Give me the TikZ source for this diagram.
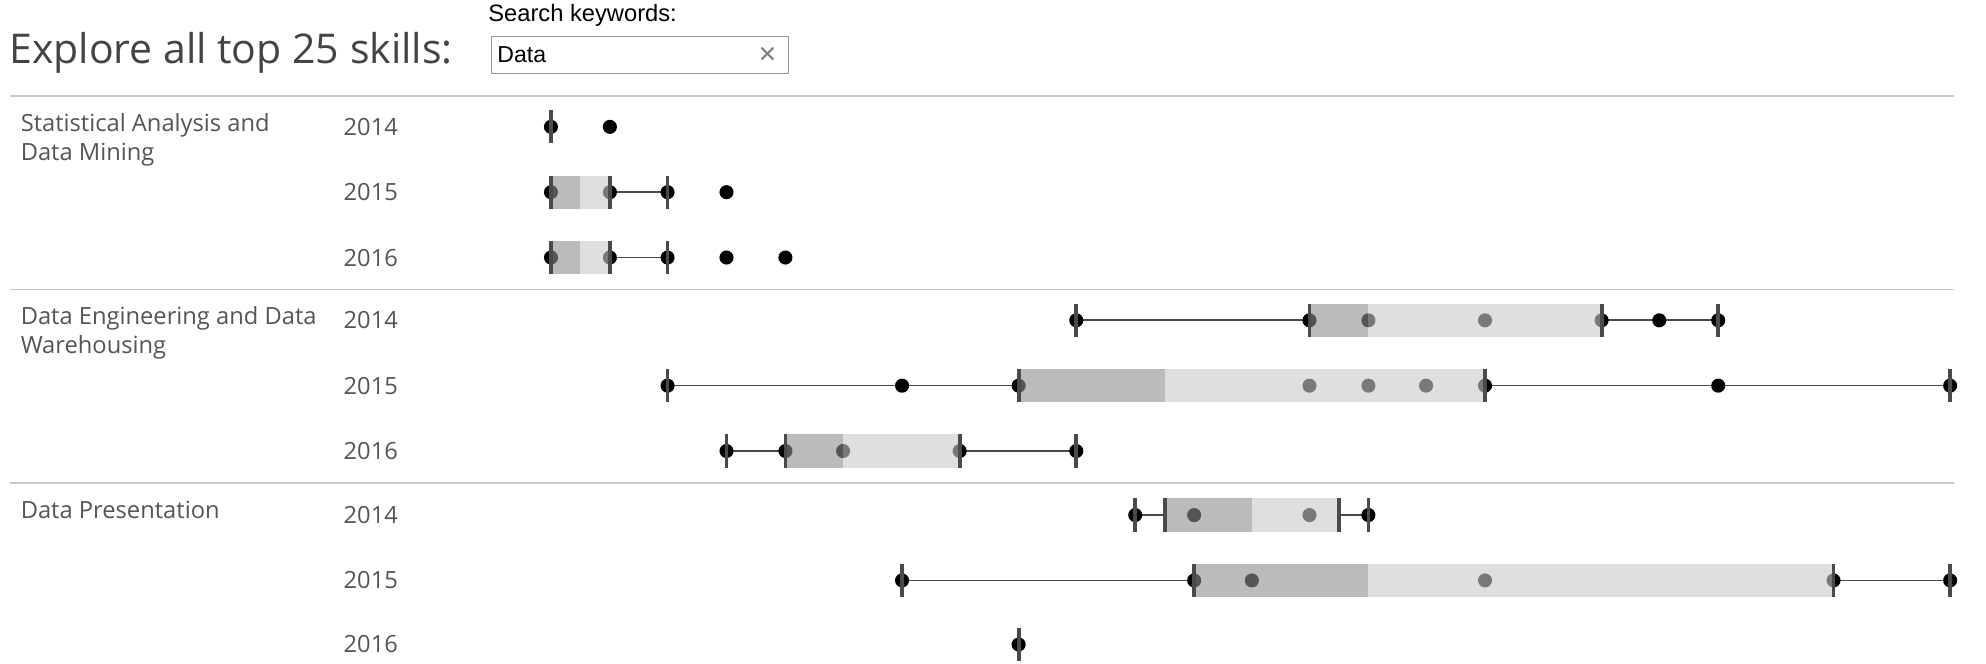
\documentclass[tikz,border=0pt]{standalone}
\usepackage{fontspec}
\setmainfont{Open Sans}
\newfontfamily\arialf{Liberation Sans}
\newfontfamily\djv{DejaVu Sans}
\definecolor{txt}{HTML}{555555}
\definecolor{sep}{HTML}{C8C8C8}
\definecolor{boxd}{RGB}{142,142,142}
\definecolor{boxl}{RGB}{203,203,203}
\definecolor{tick}{HTML}{4A4A4A}
\begin{document}
\begin{tikzpicture}[x=1pt,y=-1pt,
  lab/.style={anchor=west,text=txt,font=\fontsize{18.5}{22}\selectfont,inner sep=0pt,align=left},
  dot/.style={fill=black,draw=none},
  whisk/.style={draw=tick,line width=1.3pt},
  tk/.style={draw=tick,line width=3pt}]
\useasboundingbox (0,0) rectangle (1550,518);
\fill[white] (0,0) rectangle (1550,518);
% header
\node[anchor=west,inner sep=0pt,text=txt!80!black,font=\fontsize{32}{36}\selectfont] (title) at (7,41) {Explore all top 25 skills:};
\node[anchor=west,inner sep=0pt,font=\arialf\fontsize{18.5}{20}\selectfont] (sk) at (381,12) {Search keywords:};
\node[draw=gray!80,line width=0.8pt,minimum width=232pt,minimum height=29pt,anchor=north west,inner sep=0pt] (sbox) at (383,28) {};
\node[anchor=west,inner sep=0pt,font=\arialf\fontsize{18}{20}\selectfont] (q) at (388,43) {Data};
\node[inner sep=0pt,text=gray,font=\djv\fontsize{18}{20}\selectfont] (x) at (599,43) {✕};
% separators
\foreach \y in {75,226,377} \draw[sep,line width=1pt] (8,\y) -- (1525,\y);
% labels
\node[lab,anchor=north west] (c1) at (16,88) {Statistical Analysis and\\[1pt]Data Mining};
\node[lab,anchor=north west] (c2) at (16,239) {Data Engineering and Data\\[1pt]Warehousing};
\node[lab,anchor=north west] (c3) at (16,391) {Data Presentation};
\foreach \y/\t [count=\i] in {99/2014,150/2015,201/2016,250/2014,301/2015,352/2016,402/2014,453/2015,503/2016}
  \node[lab] (y\i) at (268,\y) {\t};
\newcommand\bxx[4]{\fill[boxd,opacity=.6] (#2,#1-13) rectangle (#3,#1+13);
  \fill[boxl,opacity=.6] (#3,#1-13) rectangle (#4,#1+13);}
\newcommand\tkk[2]{\draw[tk] (#2,#1-13) -- (#2,#1+13);}
\newcommand\dts[2]{\foreach \xx in {#2} \fill[dot] (\xx,#1) circle (5.5);}
% row1
\dts{99}{430,476} \tkk{99}{430}
% row2
\draw[whisk] (476,150)--(521,150);
\dts{150}{430,476,521,567}
\bxx{150}{430}{453}{476} \tkk{150}{430}\tkk{150}{476}\tkk{150}{521}
% row3
\draw[whisk] (476,201)--(521,201);
\dts{201}{430,476,521,567,613}
\bxx{201}{430}{453}{476} \tkk{201}{430}\tkk{201}{476}\tkk{201}{521}
% row4
\draw[whisk] (840,250)--(1022,250); \draw[whisk] (1250,250)--(1341,250);
\dts{250}{840,1022,1068,1159,1250,1295,1341}
\bxx{250}{1022}{1068}{1250} \tkk{250}{840}\tkk{250}{1022}\tkk{250}{1250}\tkk{250}{1341}
% row5
\draw[whisk] (521,301)--(795,301); \draw[whisk] (1159,301)--(1522,301);
\dts{301}{521,704,795,1022,1068,1113,1159,1341,1522}
\bxx{301}{795}{909}{1159} \tkk{301}{521}\tkk{301}{795}\tkk{301}{1159}\tkk{301}{1522}
% row6
\draw[whisk] (567,352)--(613,352); \draw[whisk] (749,352)--(840,352);
\dts{352}{567,613,658,749,840}
\bxx{352}{613}{658}{749} \tkk{352}{567}\tkk{352}{613}\tkk{352}{749}\tkk{352}{840}
% row7
\draw[whisk] (886,402)--(909,402); \draw[whisk] (1045,402)--(1068,402);
\dts{402}{886,932,1022,1068}
\bxx{402}{909}{977}{1045} \tkk{402}{886}\tkk{402}{909}\tkk{402}{1045}\tkk{402}{1068}
% row8
\draw[whisk] (704,453)--(932,453); \draw[whisk] (1431,453)--(1522,453);
\dts{453}{704,932,977,1159,1431,1522}
\bxx{453}{932}{1068}{1431} \tkk{453}{704}\tkk{453}{932}\tkk{453}{1431}\tkk{453}{1522}
% row9
\dts{503}{795} \tkk{503}{795}
\end{tikzpicture}
\end{document}
